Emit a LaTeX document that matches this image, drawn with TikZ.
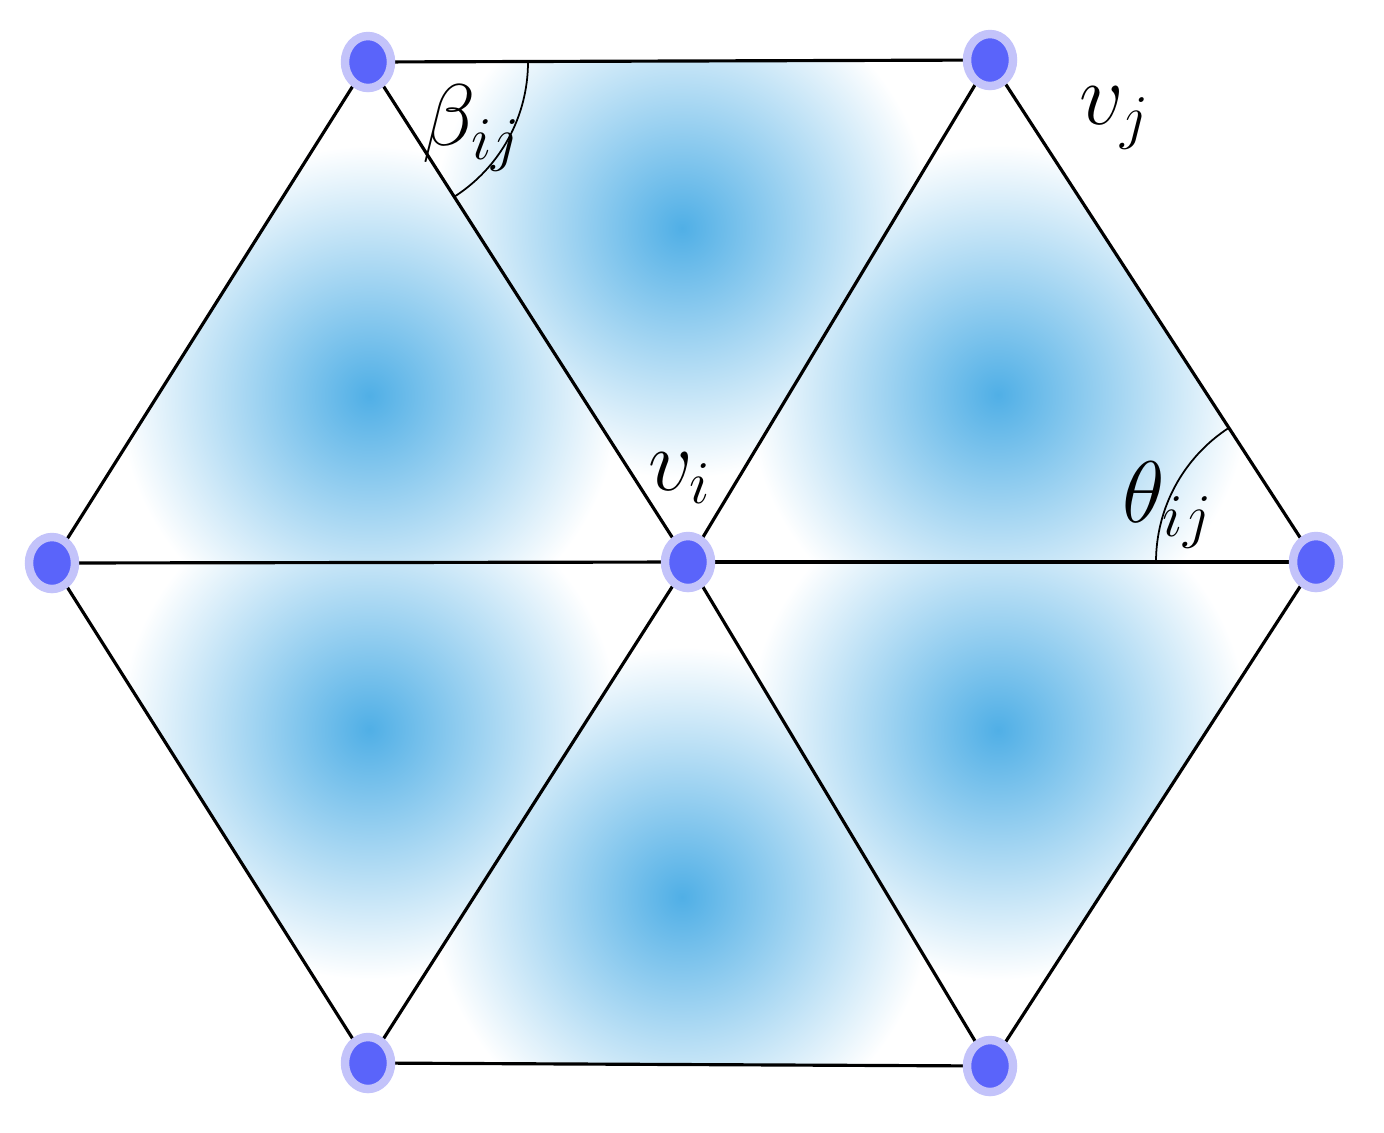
\documentclass[tikz,border=0pt]{standalone}
\usetikzlibrary{shapes.geometric}
\begin{document}
\begin{tikzpicture}[x=0.01cm,y=-0.01cm,
  edge/.style={line width=0.9pt,black},
  vtx/.style={ellipse,draw=ringc,line width=2.4pt,fill=nodec,minimum width=0.46cm,minimum height=0.52cm,inner sep=0pt},
  lbl/.style={font=\fontsize{24}{28}\selectfont}]
\definecolor{shadec}{RGB}{80,175,230}
\definecolor{nodec}{RGB}{90,100,250}
\definecolor{ringc}{RGB}{195,195,250}
\useasboundingbox (0,0) rectangle (1384,1132);
\coordinate (C) at (688,562);
\coordinate (TL) at (368,62);
\coordinate (TR) at (990,60);
\coordinate (L) at (52,563);
\coordinate (R) at (1316,562);
\coordinate (BL) at (368,1063);
\coordinate (BR) at (990,1066);
\foreach \a/\b in {TL/TR,TR/R,R/BR,BR/BL,BL/L,L/TL}{
  \begin{scope}
    \clip (C) -- (\a) -- (\b) -- cycle;
    \path (barycentric cs:C=1,\a=1,\b=1) coordinate (m);
    \shade[inner color=shadec,outer color=white] (m) circle (250);
  \end{scope}
}
\draw[edge] (TL)--(TR)--(R)--(BR)--(BL)--(L)--cycle;
\foreach \p in {TL,TR,R,BR,BL,L} \draw[edge] (C)--(\p);
\draw[line width=0.5pt] ([shift={(0:160)}]TL) arc[start angle=0,end angle=57.4,radius=160];
\draw[line width=0.5pt] ([shift={(180:160)}]R) arc[start angle=180,end angle=237,radius=160];
\node[lbl] (beta) at (472,128) {$\beta_{ij}$};
\node[lbl] (theta) at (1168,505) {$\theta_{ij}$};
\node[lbl] (vj) at (1115,118) {$v_j$};
\node[lbl] (vi) at (680,478) {$v_i$};
\foreach \p/\n in {C/nc,TL/ntl,TR/ntr,R/nr,BR/nbr,BL/nbl,L/nl} \node[vtx] (\n) at (\p) {};
\end{tikzpicture}
\end{document}
